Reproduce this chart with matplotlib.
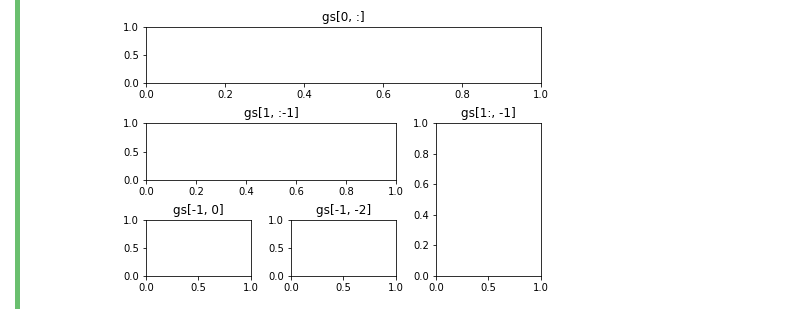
import matplotlib

matplotlib.use("Agg")
import matplotlib.pyplot as plt
from matplotlib.gridspec import GridSpec
from matplotlib.patches import Rectangle

# subplot specs and their titles
titles = ["gs[0, :]", "gs[1, :-1]", "gs[1:, -1]", "gs[-1, 0]", "gs[-1, -2]"]

DPI = 72
fig = plt.figure(figsize=(805 / DPI, 309 / DPI), dpi=DPI)

# green margin bar on the left
fig.add_artist(Rectangle((15 / 805, 0), 5 / 805, 1, transform=fig.transFigure,
                         facecolor="#6abf6f", edgecolor="none"))

gs = GridSpec(3, 3, figure=fig, left=146 / 805, right=541 / 805,
              top=1 - 27 / 309, bottom=1 - 276 / 309,
              wspace=40 / 105, hspace=40 / 56)

ax1 = fig.add_subplot(gs[0, :])
ax2 = fig.add_subplot(gs[1, :-1])
ax3 = fig.add_subplot(gs[1:, -1])
ax4 = fig.add_subplot(gs[-1, 0])
ax5 = fig.add_subplot(gs[-1, -2])

for ax, t in zip([ax1, ax2, ax3, ax4, ax5], titles):
    ax.set_title(t)

fig.savefig("out.png", dpi=DPI)
